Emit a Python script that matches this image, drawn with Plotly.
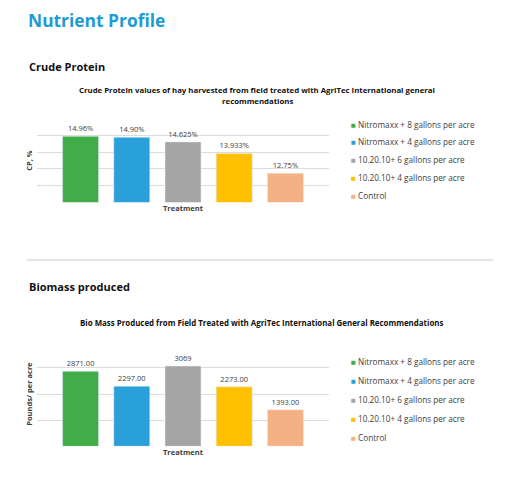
import plotly.graph_objects as go

# the page puts the figure 8px in from the top-left corner
OFF = 8
W, H = 529 - OFF, 477 - OFF

# data
treatments = ["Nitromaxx + 8 gallons per acre", "Nitromaxx + 4 gallons per acre",
              "10.20.10+ 6 gallons per acre", "10.20.10+ 4 gallons per acre", "Control"]
category = ["Treatment"]
crude_protein = [14.96, 14.90, 14.625, 13.933, 12.75]
crude_protein_labels = ["14.96%", "14.90%", "14.625%", "13.933%", "12.75%"]
biomass = [2871, 2297, 3069, 2273, 1393]
biomass_labels = ["2871.00", "2297.00", "3069", "2273.00", "1393.00"]
colors = ["#41ad49", "#29a0da", "#a5a5a5", "#ffc000", "#f4b183"]

FONT = "Open Sans"
TXT = "#404040"


def px(x):
    return (x - OFF) / W


def py(y):
    return 1 - (y - OFF) / H


fig = go.Figure()

# Crude protein bars
for name, val, lab, col in zip(treatments, crude_protein, crude_protein_labels, colors):
    fig.add_trace(go.Bar(x=category, y=[val], name=name, text=[lab],
                         textposition="outside", marker_color=col,
                         textfont=dict(size=7.5, color=TXT, family=FONT),
                         showlegend=False, xaxis="x", yaxis="y", cliponaxis=False))

# Biomass bars
for name, val, lab, col in zip(treatments, biomass, biomass_labels, colors):
    fig.add_trace(go.Bar(x=category, y=[val], name=name, text=[lab],
                         textposition="outside", marker_color=col,
                         textfont=dict(size=7.5, color=TXT, family=FONT),
                         showlegend=False, xaxis="x2", yaxis="y2", cliponaxis=False))

axis_common = dict(showline=False, zeroline=False, ticks="",
                   tickfont=dict(size=7.5, color=TXT, family=FONT, weight="bold"))
yaxis_common = dict(showgrid=True, gridcolor="#dcdcdc", gridwidth=1, zeroline=False,
                    showticklabels=False, ticks="", showline=False,
                    title_font=dict(size=7.5, color=TXT, family=FONT, weight="bold"))

fig.update_layout(
    width=W, height=H, autosize=False,
    margin=dict(l=0, r=0, t=0, b=0),
    paper_bgcolor="white", plot_bgcolor="white",
    barmode="group", bargap=0.123, bargroupgap=0.297,
    font=dict(family=FONT, color=TXT),
    xaxis=dict(domain=[px(37), px(329)], anchor="y", **axis_common),
    yaxis=dict(domain=[py(202.3), py(119)], anchor="x", range=[11, 16], dtick=1,
               title=dict(text="CP, %", standoff=2), **yaxis_common),
    xaxis2=dict(domain=[px(37), px(329)], anchor="y2", **axis_common),
    yaxis2=dict(domain=[py(446.3), py(341.7)], anchor="x2", range=[0, 4000], dtick=1000,
                title=dict(text="Pounds/ per acre", standoff=2), **yaxis_common),
)

annotations = [
    dict(text="Nutrient Profile", x=px(26), y=py(20), font=dict(size=17.4, color="#1e9ad6", weight="bold")),
    dict(text="Crude Protein", x=px(27), y=py(66), font=dict(size=11, color="#111111", weight="bold")),
    dict(text="Biomass produced", x=px(27), y=py(286), font=dict(size=11, color="#111111", weight="bold")),
    dict(text="Crude Protein values of hay harvested from field treated with AgriTec International general",
         x=px(257), y=py(90), xanchor="center", font=dict(size=7.8, color="#111111", weight="bold")),
    dict(text="recommendations",
         x=px(257), y=py(101), xanchor="center", font=dict(size=7.8, color="#111111", weight="bold")),
    dict(text="Bio Mass Produced from Field Treated with AgriTec International General Recommendations",
         x=px(261.5), y=py(323.3), xanchor="center", font=dict(size=7.9, color="#111111", weight="bold")),
]

# legends drawn as text rows with a coloured square glyph
for start, step in [(124, 17.9), (361, 19.2)]:
    for i, (name, col) in enumerate(zip(treatments, colors)):
        annotations.append(dict(
            text=f"<span style='color:{col}'>■</span> {name}",
            x=px(349), y=py(start + i * step),
            font=dict(size=8.2, color=TXT)))

for a in annotations:
    a.setdefault("xanchor", "left")
    a.update(xref="paper", yref="paper", yanchor="middle", showarrow=False)
    a["font"].setdefault("family", FONT)
fig.update_layout(annotations=annotations)

fig.update_layout(shapes=[
    dict(type="line", xref="paper", yref="paper", x0=px(27), x1=px(493), y0=py(260), y1=py(260),
         line=dict(color="#dcdcdc", width=1.5)),
    dict(type="line", xref="paper", yref="paper", x0=px(526.5), x1=px(526.5), y0=0, y1=1,
         line=dict(color="#d4d4d4", width=2)),
])

fig.write_html("out.html")
